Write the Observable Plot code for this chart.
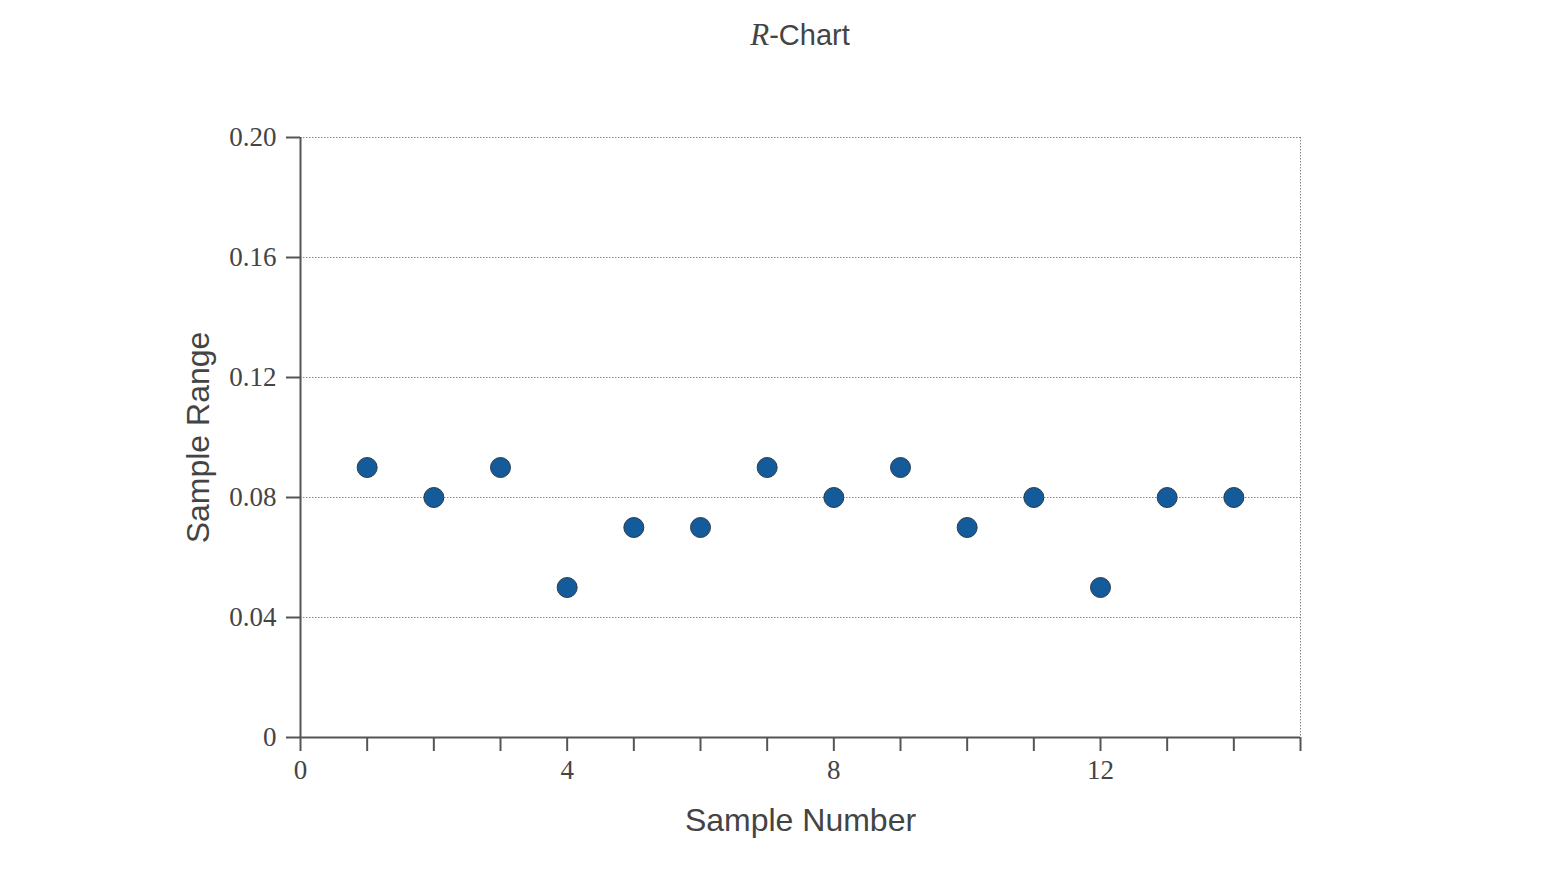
<!DOCTYPE html>
<html>
<head>
<meta charset="utf-8">
<script src="https://cdn.jsdelivr.net/npm/d3@7"></script>
<script src="https://cdn.jsdelivr.net/npm/@observablehq/plot@0.6"></script>
<style>
  body { margin: 0; background: #fff; }
  #title { height: 70px; line-height: 70px; text-align: center; padding-left: 41px; font-family: "Liberation Sans", Arial, sans-serif; font-size: 29px; color: #444; }
  #title i { font-family: "Liberation Serif", serif; font-size: 31px; }
</style>
</head>
<body>
<div id="title"><i>R</i>-Chart</div>
<div id="chart"></div>
<script>
const sampleNumbers = [1, 2, 3, 4, 5, 6, 7, 8, 9, 10, 11, 12, 13, 14];
const sampleRanges = [0.09, 0.08, 0.09, 0.05, 0.07, 0.07, 0.09, 0.08, 0.09, 0.07, 0.08, 0.05, 0.08, 0.08];
const xTicks = [0, 1, 2, 3, 4, 5, 6, 7, 8, 9, 10, 11, 12, 13, 14, 15];
const xLabelTicks = [0, 4, 8, 12];
const yTicks = [0, 0.04, 0.08, 0.12, 0.16, 0.20];
const xTitle = "Sample Number";
const yTitle = "Sample Range";

const data = sampleNumbers.map((n, i) => ({n, r: sampleRanges[i]}));

const plot = Plot.plot({
  width: 1559,
  height: 800,
  marginTop: 67,
  marginBottom: 133,
  marginLeft: 300,
  marginRight: 259,
  style: {fontFamily: "Liberation Serif, serif", fontSize: "27px", color: "#444", background: "#fff"},
  x: {domain: [0, 15]},
  y: {domain: [0, 0.2]},
  marks: [
    Plot.gridY(yTicks.filter(d => d > 0), {stroke: "#888", strokeOpacity: 1, strokeWidth: 1, strokeDasharray: "1.5,1.5"}),
    Plot.ruleX([15], {stroke: "#888", strokeWidth: 1, strokeDasharray: "1.5,1.5"}),
    Plot.axisX({ticks: xTicks, tickSize: 14, tickPadding: 8, stroke: "#555", strokeWidth: 2,
      tickFormat: d => xLabelTicks.includes(d) ? String(d) : "",
      label: null}),
    Plot.axisY({ticks: yTicks, tickSize: 14, tickPadding: 10, stroke: "#555", strokeWidth: 2,
      tickFormat: d => d === 0 ? "0" : d.toFixed(2),
      label: null}),
    Plot.ruleY([0], {stroke: "#555", strokeWidth: 2}),
    Plot.ruleX([0], {stroke: "#555", strokeWidth: 2}),
    Plot.text([xTitle], {frameAnchor: "bottom", dy: 83, text: d => d, textAnchor: "middle", fontFamily: "Liberation Sans, Arial, sans-serif", fontSize: 32, fill: "#444", lineAnchor: "middle"}),
    Plot.text([yTitle], {frameAnchor: "left", dx: -102, rotate: -90, text: d => d, textAnchor: "middle", fontFamily: "Liberation Sans, Arial, sans-serif", fontSize: 32, fill: "#444", lineAnchor: "middle"}),
    Plot.dot(data, {x: "n", y: "r", r: 10, fill: "#145b9b", stroke: "#2a3a4a", strokeWidth: 1})
  ]
});
document.getElementById("chart").appendChild(plot);
</script>
</body>
</html>
